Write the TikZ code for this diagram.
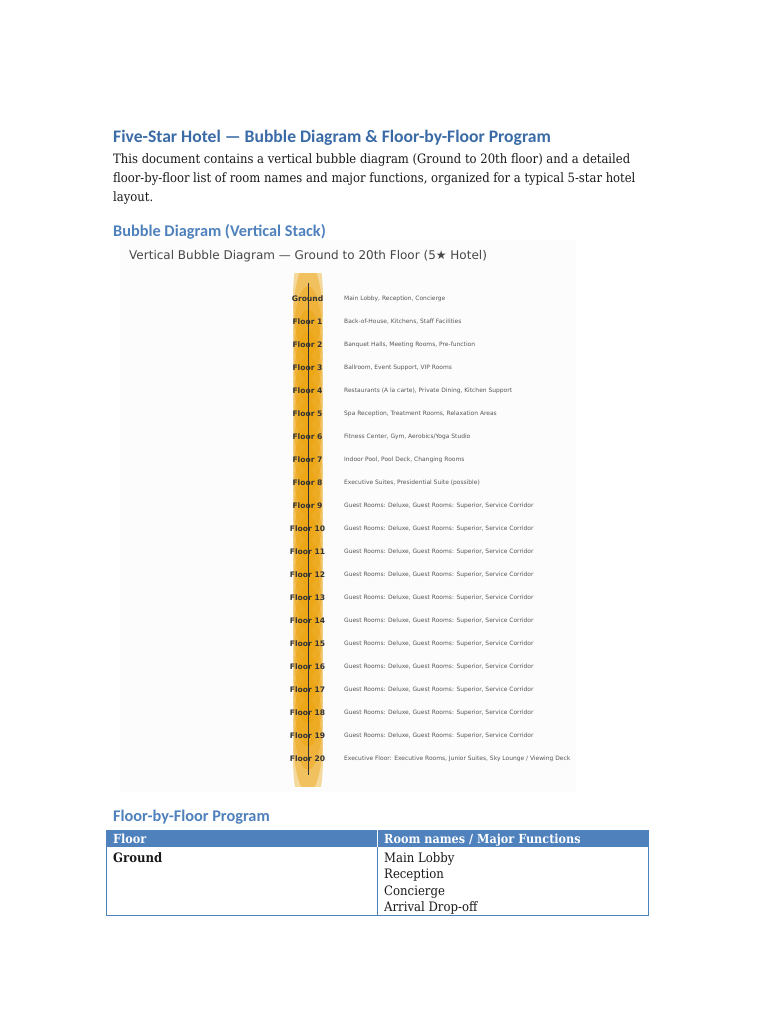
\documentclass[tikz,border=0pt]{standalone}
\usepackage{fontspec}
\setmainfont{DejaVu Serif Condensed}
\newfontfamily\headfont{Carlito}
\newfontfamily\figfont{DejaVu Sans}
\definecolor{titleblue}{HTML}{3A6BA6}
\definecolor{headblue}{HTML}{4F81BD}
\definecolor{bubble}{HTML}{EC9E00}
\definecolor{labelgray}{HTML}{333333}
\definecolor{descgray}{HTML}{555555}
\definecolor{bodytext}{HTML}{1A1A1A}
\tikzset{
  h1/.style={anchor=base west, inner sep=0pt, text=titleblue, font=\headfont\bfseries\fontsize{17.6}{20}\selectfont},
  h2/.style={anchor=base west, inner sep=0pt, text=headblue, font=\headfont\bfseries\fontsize{16.3}{19}\selectfont},
  para/.style={anchor=base west, inner sep=0pt, text=bodytext, font=\fontsize{12.9}{15}\selectfont},
  figtitle/.style={anchor=base west, inner sep=0pt, text=labelgray!90, font=\figfont\fontsize{12}{14}\selectfont},
  floorlbl/.style={anchor=center, inner sep=0pt, text=labelgray, font=\figfont\bfseries\fontsize{7.6}{9}\selectfont},
  desc/.style={anchor=west, inner sep=0pt, text=descgray, font=\figfont\fontsize{5.95}{7}\selectfont},
  bub/.style={fill=bubble, fill opacity=0.38, draw=none},
  tblline/.style={draw=headblue, line width=0.8pt},
  thead/.style={anchor=base west, inner sep=0pt, text=white, font=\bfseries\fontsize{12.5}{15}\selectfont},
  tcell/.style={anchor=base west, inner sep=0pt, text=bodytext, font=\fontsize{13}{15}\selectfont},
}
\begin{document}
\begin{tikzpicture}[x=1pt, y=-1pt]
\useasboundingbox[fill=white] (0,0) rectangle (768,1024);
% headings and paragraph
\node[h1] (title) at (113,142.5) {Five-Star Hotel — Bubble Diagram \& Floor-by-Floor Program};
\node[para] (p1) at (113,163.5) {This document contains a vertical bubble diagram (Ground to 20th floor) and a detailed};
\node[para] (p2) at (113,182.5) {floor-by-floor list of room names and major functions, organized for a typical 5-star hotel};
\node[para] (p3) at (113,201.5) {layout.};
\node[h2] (h2a) at (113,236.5) {Bubble Diagram (Vertical Stack)};
% figure
\fill[fill=black!1] (120,240) rectangle (576,792);
\node[figtitle] (ftitle) at (129,259) {Vertical Bubble Diagram — Ground to 20th Floor (5★ Hotel)};
\begin{scope}
\clip (280,273) rectangle (340,786);
\foreach \i in {0,...,20} {
  \fill[bub] (308,298+23*\i) ellipse [x radius=15, y radius=58];
}
\end{scope}
\coordinate (ltop) at (308,283);
\coordinate (lbot) at (308,775);
\draw[line width=0.6pt, draw=black!80] (ltop) -- (lbot);
\foreach \i/\lab/\d in {
 0/Ground/{Main Lobby, Reception, Concierge},
 1/Floor 1/{Back-of-House, Kitchens, Staff Facilities},
 2/Floor 2/{Banquet Halls, Meeting Rooms, Pre-function},
 3/Floor 3/{Ballroom, Event Support, VIP Rooms},
 4/Floor 4/{Restaurants (A la carte), Private Dining, Kitchen Support},
 5/Floor 5/{Spa Reception, Treatment Rooms, Relaxation Areas},
 6/Floor 6/{Fitness Center, Gym, Aerobics/Yoga Studio},
 7/Floor 7/{Indoor Pool, Pool Deck, Changing Rooms},
 8/Floor 8/{Executive Suites, Presidential Suite (possible)},
 9/Floor 9/{Guest Rooms: Deluxe, Guest Rooms: Superior, Service Corridor},
 10/Floor 10/{Guest Rooms: Deluxe, Guest Rooms: Superior, Service Corridor},
 11/Floor 11/{Guest Rooms: Deluxe, Guest Rooms: Superior, Service Corridor},
 12/Floor 12/{Guest Rooms: Deluxe, Guest Rooms: Superior, Service Corridor},
 13/Floor 13/{Guest Rooms: Deluxe, Guest Rooms: Superior, Service Corridor},
 14/Floor 14/{Guest Rooms: Deluxe, Guest Rooms: Superior, Service Corridor},
 15/Floor 15/{Guest Rooms: Deluxe, Guest Rooms: Superior, Service Corridor},
 16/Floor 16/{Guest Rooms: Deluxe, Guest Rooms: Superior, Service Corridor},
 17/Floor 17/{Guest Rooms: Deluxe, Guest Rooms: Superior, Service Corridor},
 18/Floor 18/{Guest Rooms: Deluxe, Guest Rooms: Superior, Service Corridor},
 19/Floor 19/{Guest Rooms: Deluxe, Guest Rooms: Superior, Service Corridor},
 20/Floor 20/{Executive Floor: Executive Rooms, Junior Suites, Sky Lounge / Viewing Deck}} {
  \node[floorlbl] (fl\i) at (307.5,298.5+23*\i) {\lab};
  \node[desc] (ds\i) at (344,298.5+23*\i) {\d};
}
% table
\node[h2] (h2b) at (113,821.5) {Floor-by-Floor Program};
\fill[headblue] (106,830) rectangle (648,847);
\draw[tblline] (106,830) rectangle (648,915);
\draw[tblline] (377,847) -- (377,915);
\draw[draw=white, line width=0.5pt] (377,830) -- (377,847);
\node[thead] (th1) at (113,843) {Floor};
\node[thead] (th2) at (384,843) {Room names / Major Functions};
\node[tcell, font=\bfseries\fontsize{13}{15}\selectfont] (c1) at (113,862) {Ground};
\node[tcell] (c2) at (384,862) {Main Lobby};
\node[tcell] (c3) at (384,878.5) {Reception};
\node[tcell] (c4) at (384,895) {Concierge};
\node[tcell] (c5) at (384,911.5) {Arrival Drop-off};
\end{tikzpicture}
\end{document}
